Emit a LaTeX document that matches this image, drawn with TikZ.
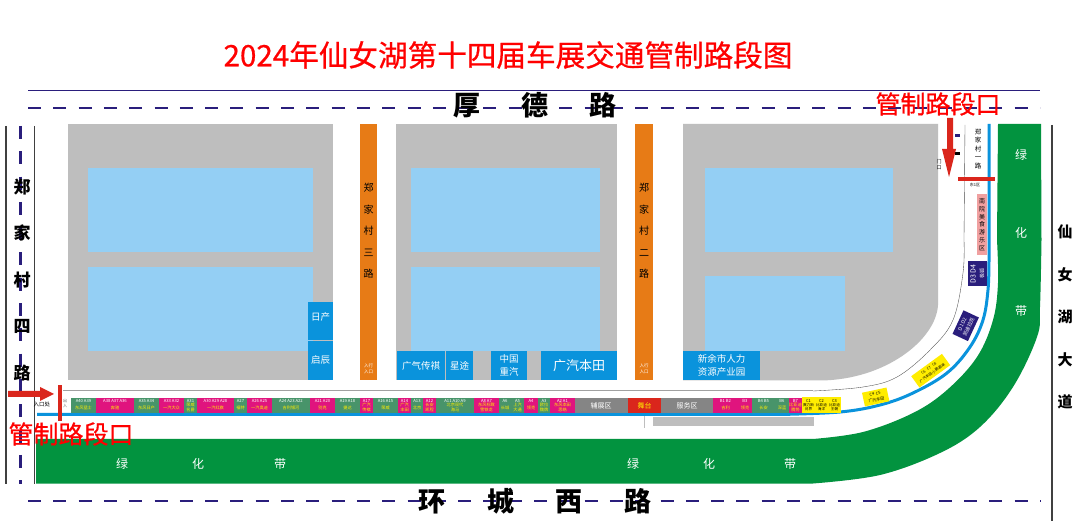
\documentclass[tikz,border=0pt]{standalone}
\usepackage{fontspec}
\setmainfont{Noto Sans CJK SC}
\newfontfamily\fakeb[FakeBold=0.6]{Noto Sans CJK SC}
\usetikzlibrary{arrows.meta}
\definecolor{rgray}{HTML}{BEBEBE}
\definecolor{lblue}{HTML}{94CFF4}
\definecolor{tile}{HTML}{0A93DC}
\definecolor{oran}{HTML}{E77B16}
\definecolor{band}{HTML}{02933F}
\definecolor{navy}{HTML}{2A1E7C}
\definecolor{mag}{HTML}{E0147E}
\definecolor{sgreen}{HTML}{48946A}
\definecolor{sgray}{HTML}{858585}
\definecolor{cred}{HTML}{DA261C}
\definecolor{yel}{HTML}{FFED00}
\definecolor{pinkb}{HTML}{F0A0A0}
\tikzset{
  roadline/.style={draw=black!75,line width=1.2pt},
  dashline/.style={draw=navy,line width=2.4pt,dash pattern=on 13pt off 12.3pt},
  roadtext/.style={font=\fontsize{27}{28}\selectfont\bfseries,inner sep=1pt,anchor=center},
  vroad/.style={font=\fontsize{17}{46.5}\selectfont\bfseries,inner sep=1pt,align=center},
  tiletext/.style={font=\fontsize{9.5}{13}\selectfont,text=white,align=center,inner sep=0pt},
  bandtext/.style={font=\fontsize{12}{14}\selectfont,text=white,inner sep=0pt},
  redtext/.style={font=\fakeb\fontsize{25}{27}\selectfont,text=red,inner sep=0pt},
  orangetext/.style={font=\fontsize{10}{21.5}\selectfont,align=center,inner sep=0pt},
  toptag/.style={font=\fontsize{4.2}{5}\selectfont,text=white,inner sep=0pt},
  midtag/.style={font=\fontsize{4.2}{4.8}\selectfont,text=yel,align=center,inner sep=0pt},
}
\newcommand{\stall}[5]{%
  \fill[#3] (#1,398) rectangle (#2,413);
  \draw[white,line width=0.2pt] (#2,398) -- (#2,413);
  \node[toptag] at ({(#1+#2)/2},401) {#4};
  \node[midtag] at ({(#1+#2)/2},407.5) {#5};
}
\begin{document}
\begin{tikzpicture}[x=1pt,y=-1pt]
\useasboundingbox (0,0) rectangle (1080,521);
\fill[white] (0,0) rectangle (1080,521);
% title
\node[font=\fakeb\fontsize{29.6}{31}\selectfont,text=red,inner sep=0pt] (title) at (508,55) {2024年仙女湖第十四届车展交通管制路段图};
% road lines
\draw[navy,line width=1.6pt] (28,90.5) -- (1040,90.5);
\draw[dashline] (28,108) -- (1040,108);
\draw[roadline] (6,126) -- (6,484);
\draw[roadline] (34.5,126) -- (34.5,484);
\draw[dashline] (20.5,126) -- (20.5,484);
\draw[dashline] (28,501) -- (1041,501);
\draw[roadline] (1052,125) -- (1052,521);
% road names
\node[roadtext] (hou) at (535,105) {厚\hspace{1.52em}德\hspace{1.52em}路};
\node[roadtext] (huan) at (535,501) {环\hspace{1.55em}城\hspace{1.55em}西\hspace{1.55em}路};
\node[vroad] (zj4) at (22,280) {郑\\家\\村\\四\\路};
\node[font=\fontsize{15}{42.5}\selectfont\bfseries,align=center,inner sep=0pt] (xn) at (1065,317) {仙\\女\\湖\\大\\道};
% blocks
\fill[rgray] (68,124) rectangle (333,380);
\fill[lblue] (88,168) rectangle (313,252);
\fill[lblue] (88,267) rectangle (313,351);
\fill[rgray] (396,124) rectangle (617,380);
\fill[lblue] (411,168) rectangle (600,252);
\fill[lblue] (411,267) rectangle (600,351);
\fill[rgray] (683,124) -- (938,124) -- (938,305) .. controls (936,340) and (885,380) .. (820,380.5) -- (683,380.5) -- cycle;
\fill[lblue] (705,168) rectangle (893,252);
\fill[lblue] (705,276) rectangle (845,351);
% orange
\fill[oran] (360,124) rectangle (377,380);
\fill[oran] (635,124) rectangle (653,380);
\node[orangetext] (zj3) at (368.5,231) {郑\\家\\村\\三\\路};
\node[orangetext] (zj2) at (644,231) {郑\\家\\村\\二\\路};
\node[font=\fontsize{4.5}{5.5}\selectfont,text=white,align=center,inner sep=0pt] (r3) at (368.5,369) {入行\\入口};
\node[font=\fontsize{4.5}{5.5}\selectfont,text=white,align=center,inner sep=0pt] (r2) at (644,369) {入行\\入口};
% tiles
\foreach \xa/\ya/\xb/\yb/\ty/\tx in {308/302/333/340.5/317/日产,308/341.5/333/380/360/启辰,397/351/445/380/366/广气传祺,446/351/473/380/366/星途,491/351/527/380/365.5/{中国\\重汽},541/351/617/380/365.5/{\fontsize{13}{14}\selectfont 广汽本田},683/351/760/380/365.5/{新余市人力\\资源产业园}}{
  \fill[tile] (\xa,\ya) rectangle (\xb,\yb);
  \node[tiletext] at ({(\xa+\xb)/2},\ty) {\tx};
}
% green bands
\fill[band] (36,439) -- (813,439) -- plot[smooth,tension=0.6] coordinates {(813,439) (863,432) (913,413) (947,390) (977,357) (993,320) (998,283) (997,240)} -- (998,124) -- (1041,124) -- (1041.5,240) -- plot[smooth,tension=0.6] coordinates {(1041.5,240) (1040,307) (1037,337) (1013,387) (980,427) (940,453) (880,475) (813,483.5)} -- (36,483.5) -- cycle;
\foreach \p/\t in {122/绿,198/化,280/带,633/绿,709/化,790/带}{
  \node[bandtext] at (\p,464) {\t};
}
\foreach \p/\t in {155/绿,233/化,311/带}{
  \node[bandtext] at (1021,\p) {\t};
}
% thin gray line and blue line
\draw[rgray!85!black,line width=0.8pt] (63,390.5) -- (813,390.5);
\draw[black!70,line width=0.35pt] plot[smooth,tension=0.6] coordinates {(813,391) (863,387) (897,377) (930,350) (953,320) (963,273) (964,240)} -- (965,125);
\fill[rgray] (653,417) rectangle (814,426);
\draw[rgray,line width=0.5pt] (644,416) -- (644,428);
\draw[tile,line width=3pt] (37,414.5) -- (780,414.5) -- plot[smooth,tension=0.6] coordinates {(780,414.5) (840,412) (880,405) (913,393) (947,373) (970,347) (983,320) (988,290) (989,260)} -- (989,124);
% stalls
\stall{71}{96}{sgreen}{A40 A39}{东风猛士}
\stall{96}{134}{mag}{A38 A37 A36}{奔驰}
\stall{134}{159}{sgreen}{A35 A34}{东风日产}
\stall{159}{184}{mag}{A33 A32}{一汽大众}
\stall{184}{197}{sgreen}{A31}{荣威\\名爵}
\stall{197}{234}{mag}{A30 A29 A28}{一汽红旗}
\stall{234}{247}{sgreen}{A27}{福特}
\stall{247}{272}{mag}{A26 A25}{一汽奥迪}
\stall{272}{310}{sgreen}{A24 A23 A22}{吉利银河}
\stall{310}{335}{mag}{A21 A20}{别克}
\stall{335}{360}{sgreen}{A19 A18}{捷达}
\stall{360}{373}{mag}{A17}{广汽\\传祺}
\stall{373}{398}{sgreen}{A16 A15}{荣威}
\stall{398}{411}{mag}{A14}{广汽\\丰田}
\stall{411}{423}{sgreen}{A13}{北京}
\stall{423}{436}{mag}{A12}{长安\\凯程}
\stall{436}{474}{sgreen}{A11 A10 A9}{北京现代\\海马}
\stall{474}{499}{mag}{A8 A7}{东风标致\\雪铁龙}
\stall{499}{511}{sgreen}{A6}{长城}
\stall{511}{524}{sgreen}{A5}{上汽\\大通}
\stall{524}{538}{mag}{A4}{领克}
\stall{538}{550}{sgreen}{A3}{欧拉\\魏牌}
\stall{550}{575}{mag}{A2 A1}{东风本田\\思皓}
\stall{713}{738}{mag}{B1 B2}{吉利}
\stall{738}{752}{mag}{B3}{领克}
\stall{752}{775}{sgreen}{B4 B5}{长安}
\stall{775}{789}{sgreen}{B6}{深蓝}
\stall{789}{802}{mag}{B7}{比亚迪\\腾势}
\fill[sgray] (575,398) rectangle (628,413);
\fill[cred] (628,398) rectangle (661,413);
\fill[sgray] (661,398) rectangle (713,413);
\node[font=\fontsize{7}{8}\selectfont,text=white,inner sep=0pt] (fz) at (601,406) {辅展区};
\node[font=\fontsize{7}{8}\selectfont,text=yel,inner sep=0pt] (wt) at (644.5,406) {舞台};
\node[font=\fontsize{7}{8}\selectfont,text=white,inner sep=0pt] (fw) at (687,406) {服务区};
% yellow C1-C3
\foreach \xa/\xb/\ta/\tb in {802/815/C1/赛力斯\\问界,815/828/C2/比亚迪\\海洋,828/841/C3/比亚迪\\王朝}{
  \fill[yel] (\xa,397) rectangle (\xb,413);
  \node[font=\fontsize{4}{4}\selectfont,inner sep=0pt] at ({(\xa+\xb)/2},401) {\ta};
  \node[font=\fontsize{3.6}{4.2}\selectfont,align=center,inner sep=0pt] at ({(\xa+\xb)/2},407.5) {\tb};
}
\node[fill=yel,minimum width=25pt,minimum height=14pt,rotate=12,inner sep=0pt,align=center,font=\fontsize{4}{6}\selectfont] (c45) at (875.7,397) {C4\ \ C5\\广汽丰田};
\node[fill=yel,minimum width=38pt,minimum height=14pt,rotate=36,inner sep=0pt,align=center,font=\fontsize{3.6}{6}\selectfont] (c68) at (930.7,370.7) {C6\ \ \ C7\ \ \ C8\\广汽本田\ 小鹏\ 蔚来};
% purple
\node[fill=navy,text=white,minimum width=26pt,minimum height=17pt,rotate=65,inner sep=0pt,align=center,font=\fontsize{5}{7}\selectfont] (d12) at (965.7,325.7) {D1\ D2\\凯迪拉克};
\fill[navy] (968,261) rectangle (987,286);
\node[rotate=90,text=white,font=\fontsize{7}{8}\selectfont,inner sep=0pt] (d34) at (973,274) {D3 D4};
\node[rotate=90,text=white,font=\fontsize{5}{6}\selectfont,inner sep=0pt] (dn) at (982,274) {极狐};
% pink
\node[fill=pinkb,minimum width=10pt,minimum height=61pt,inner sep=0pt,align=center,font=\fontsize{6}{7.8}\selectfont] (pink) at (982,224.5) {南\\院\\美\\食\\游\\乐\\区};
% top right small
\node[font=\fontsize{6.5}{8.5}\selectfont,align=center,inner sep=0pt] (zj1) at (978,149) {郑\\家\\村\\一\\路};
\node[font=\fontsize{4}{5}\selectfont,inner sep=0pt] (d18) at (975,185) {东1区};
\node[font=\fontsize{5}{6}\selectfont,align=center,inner sep=0pt] (men) at (939,165) {门\\口};
\fill[navy] (955,134.5) rectangle (960,137.5);
\fill[black] (955,152) rectangle (960,155);
% entrance
\node[font=\fontsize{5.5}{6}\selectfont,inner sep=0pt] (rk) at (42,404) {入口处};
\node[font=\fontsize{4}{5}\selectfont,text=black!60,align=center,inner sep=0pt] (ck) at (65,403) {出\\入};
% control markers
\fill[cred] (8,391) -- (40,391) -- (40,387) -- (54,394) -- (40,401) -- (40,397) -- (8,397) -- cycle;
\fill[cred] (57.5,385) rectangle (61.5,421);
\node[redtext] (g1) at (71,434) {管制路段口};
\node[redtext] (g2) at (938,104) {管制路段口};
\fill[cred] (947,118) -- (953,118) -- (953,149) -- (956,149) -- (949,177) -- (942,149) -- (947,149) -- cycle;
\fill[cred] (958,177) rectangle (995,181);
\end{tikzpicture}
\end{document}
